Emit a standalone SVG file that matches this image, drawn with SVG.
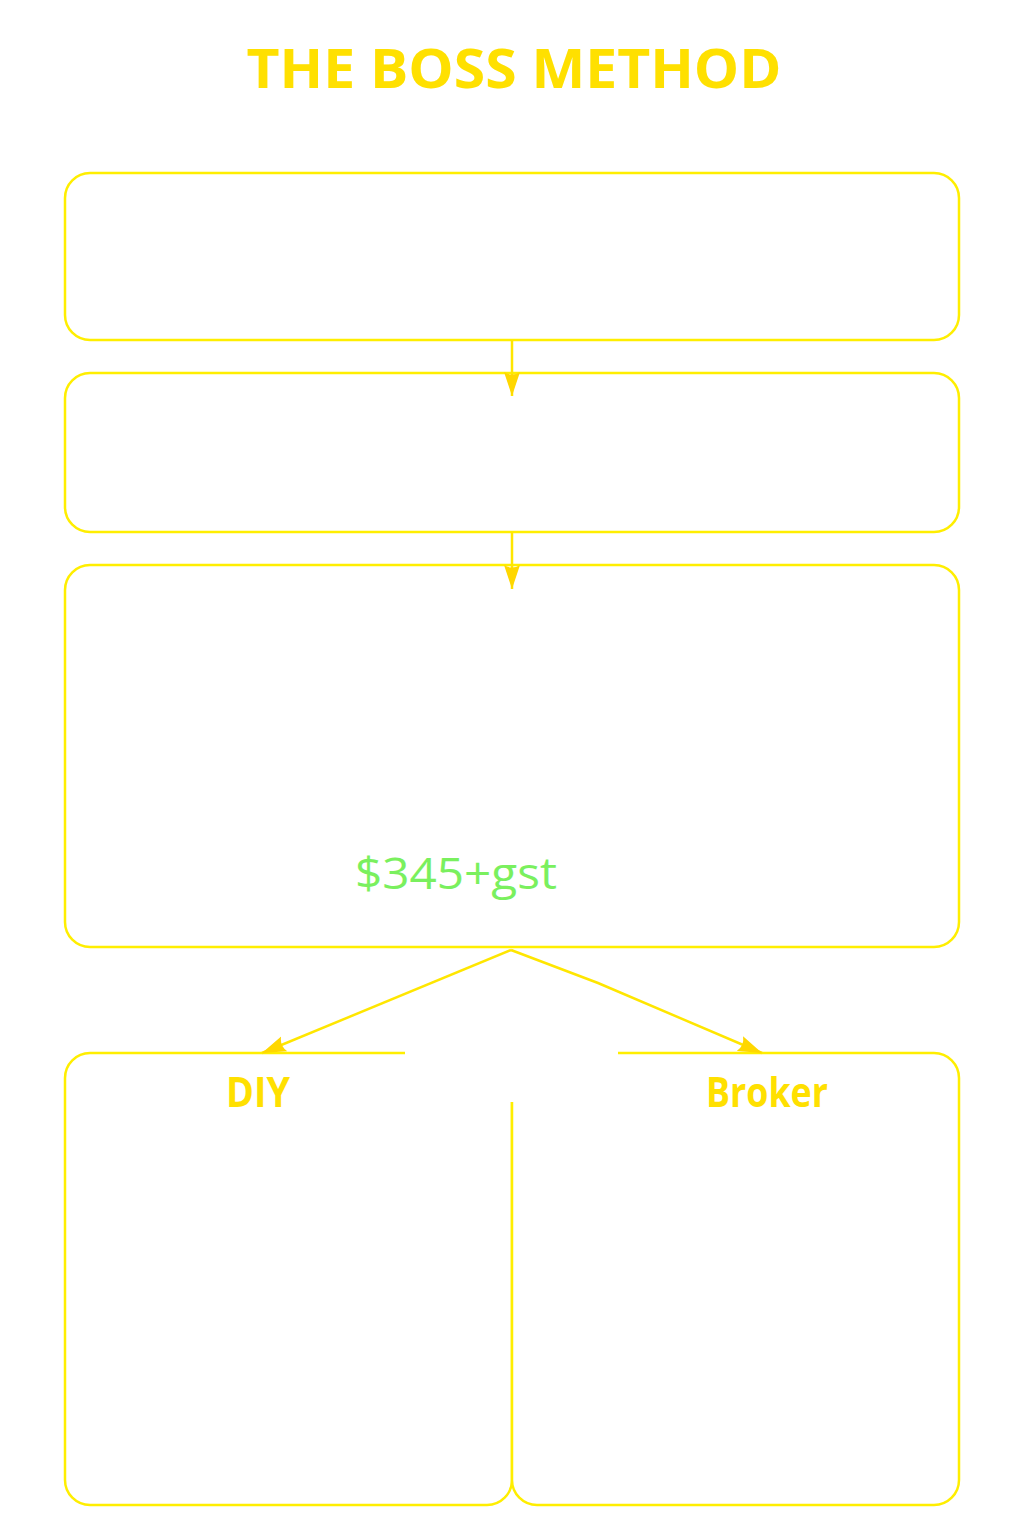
<svg xmlns="http://www.w3.org/2000/svg" width="1024" height="1536" viewBox="0 0 1024 1536">
  <style>
    .box{fill:#fff;stroke:#FFEE00;stroke-width:2.5}
    .conn{stroke:#FFE600;stroke-width:2.5;fill:none}
    .t{fill:#fff;font-family:"Open Sans","Liberation Sans",sans-serif;text-anchor:middle}
    .y{fill:#FFE000;font-family:"Open Sans","Liberation Sans",sans-serif;font-weight:bold;text-anchor:middle}
  </style>
  <defs>
    <marker id="ah" markerUnits="userSpaceOnUse" markerWidth="28" markerHeight="20" refX="24" refY="9" orient="auto">
      <path d="M0,1 L24,9 L0,17 Q5,9 0,1 z" fill="#FFD700"/>
    </marker>
  </defs>
  <rect width="1024" height="1536" fill="#fff"/>

  <g id="title">
    <text class="y" x="514" y="88" font-size="54" textLength="535" lengthAdjust="spacingAndGlyphs">THE BOSS METHOD</text>
    <text class="t" x="511" y="133" font-size="32" textLength="752" lengthAdjust="spacingAndGlyphs">Business Owner Selling System – Flow Chart</text>
  </g>

  <g id="node-start">
    <rect class="box" x="65" y="173" width="894" height="167" rx="25"/>
    <text class="t" x="512" y="267" font-size="40" textLength="538" lengthAdjust="spacingAndGlyphs">START: Initial Enquiry Received</text>
  </g>

  <g id="node-call">
    <rect class="box" x="65" y="373" width="894" height="159" rx="25"/>
    <text class="t" x="511" y="442" font-size="38" textLength="508" lengthAdjust="spacingAndGlyphs">20-Minute Introductory Call</text>
    <text class="t" x="511" y="490" font-size="38" textLength="306" lengthAdjust="spacingAndGlyphs">(Complimentary)</text>
  </g>

  <g id="node-bas">
    <rect class="box" x="65" y="565" width="894" height="382" rx="25"/>
    <text class="t" x="513" y="627" font-size="32" textLength="659" lengthAdjust="spacingAndGlyphs">OPTION 1 – Business Advisory Service</text>
    <text class="t" x="518" y="681" font-size="32" textLength="572" lengthAdjust="spacingAndGlyphs">(BAS) Mandatory starting point</text>
    <text class="t" x="509" y="735" font-size="32" textLength="328" lengthAdjust="spacingAndGlyphs">- Market appraisal</text>
    <text class="t" x="517" y="787" font-size="32" textLength="426" lengthAdjust="spacingAndGlyphs">- Saleability assessment</text>
    <text class="t" x="500" y="833" font-size="30" textLength="474" lengthAdjust="spacingAndGlyphs">fees may be payable from</text>
    <text x="355" y="889" font-size="44" fill="#7AF05E" font-family="'Open Sans','Liberation Sans',sans-serif" textLength="202" lengthAdjust="spacingAndGlyphs">$345+gst</text>
    <text x="564" y="889" font-size="28" fill="#fff" font-family="'Open Sans','Liberation Sans',sans-serif" textLength="114" lengthAdjust="spacingAndGlyphs">per hour</text>
    <text class="t" x="512" y="929" font-size="24" textLength="269" lengthAdjust="spacingAndGlyphs">(Minimum 3 hour block)</text>
  </g>

  <g id="node-diy">
    <rect class="box" x="65" y="1053" width="447" height="452" rx="25"/>
    <text class="y" x="258" y="1107" font-size="42" textLength="64" lengthAdjust="spacingAndGlyphs">DIY</text>
    <text class="t" x="263" y="1160" font-size="32" textLength="268" lengthAdjust="spacingAndGlyphs">Pathway A – DIY</text>
    <text class="t" x="266" y="1207" font-size="32" textLength="215" lengthAdjust="spacingAndGlyphs">Engagement</text>
    <text class="t" x="266" y="1252" font-size="32" textLength="240" lengthAdjust="spacingAndGlyphs">Package (DEP)</text>
    <text class="t" x="269" y="1297" font-size="32" textLength="216" lengthAdjust="spacingAndGlyphs">Silver / Gold /</text>
    <text class="t" x="269" y="1342" font-size="32" textLength="145" lengthAdjust="spacingAndGlyphs">Platinum</text>
    <text class="t" x="268" y="1388" font-size="32" textLength="215" lengthAdjust="spacingAndGlyphs">Paid upfront</text>
    <text class="t" x="266" y="1433" font-size="32" textLength="275" lengthAdjust="spacingAndGlyphs">Seller manages</text>
    <text class="t" x="272" y="1478" font-size="32" textLength="287" lengthAdjust="spacingAndGlyphs">enquiries &amp; nego</text>
  </g>

  <g id="node-broker">
    <rect class="box" x="512" y="1053" width="447" height="452" rx="25"/>
    <text class="y" x="767" y="1107" font-size="42" textLength="122" lengthAdjust="spacingAndGlyphs">Broker</text>
    <text class="t" x="764" y="1160" font-size="32" textLength="265" lengthAdjust="spacingAndGlyphs">Pathway B – Full</text>
    <text class="t" x="766" y="1207" font-size="32" textLength="295" lengthAdjust="spacingAndGlyphs">Brokerage Service</text>
    <text class="t" x="767" y="1252" font-size="32" textLength="76" lengthAdjust="spacingAndGlyphs">(FBS)</text>
    <text class="t" x="755" y="1297" font-size="32" textLength="363" lengthAdjust="spacingAndGlyphs">BAS + Marketing paid</text>
    <text class="t" x="758" y="1342" font-size="32" textLength="123" lengthAdjust="spacingAndGlyphs">upfront</text>
    <text class="t" x="759" y="1388" font-size="32" textLength="250" lengthAdjust="spacingAndGlyphs">Refunded from</text>
    <text class="t" x="758" y="1433" font-size="32" textLength="262" lengthAdjust="spacingAndGlyphs">7% success fee</text>
    <text class="t" x="750" y="1478" font-size="32" textLength="307" lengthAdjust="spacingAndGlyphs">on successful sale</text>
  </g>

  <g id="label-choose">
    <rect x="405" y="1030" width="213" height="72" fill="#fff"/>
    <text class="t" x="510" y="1035" font-size="28" textLength="246" lengthAdjust="spacingAndGlyphs">Seller chooses</text>
    <text class="t" x="511" y="1075" font-size="28" textLength="152" lengthAdjust="spacingAndGlyphs">pathway</text>
  </g>

  <g id="connectors">
    <line class="conn" x1="512" y1="340" x2="512" y2="396" marker-end="url(#ah)"/>
    <line class="conn" x1="512" y1="532" x2="512" y2="589" marker-end="url(#ah)"/>
    <line class="conn" x1="511" y1="950" x2="262" y2="1053" marker-end="url(#ah)"/>
    <polyline class="conn" points="511,950 598,983 762,1053" marker-end="url(#ah)"/>
  </g>
</svg>
